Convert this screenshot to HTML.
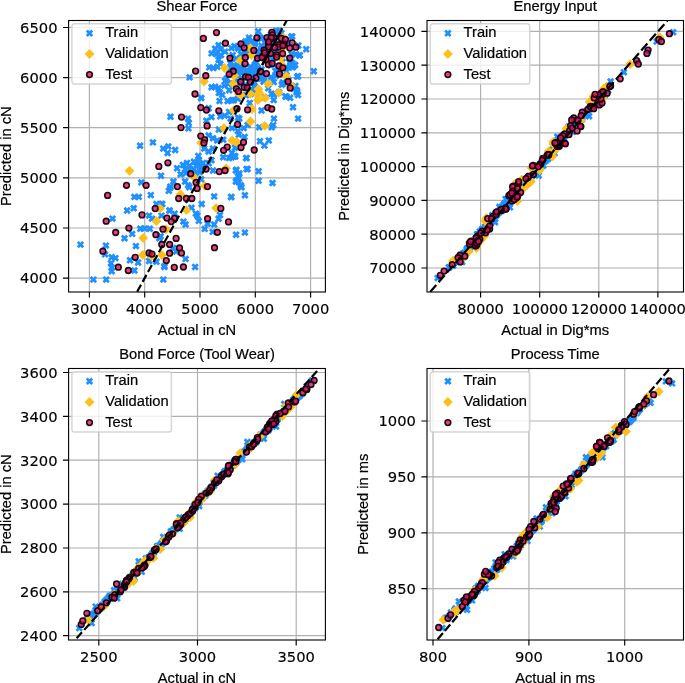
<!DOCTYPE html>
<html><head><meta charset="utf-8"><title>Predicted vs Actual</title>
<style>
html,body{margin:0;padding:0;background:#fff}
svg{display:block}
.s{font-family:"Liberation Sans",Arial,Helvetica,sans-serif;font-size:14.7px;fill:#000;stroke:#000;stroke-width:0.2px}
.d{font-family:"DejaVu Sans","Liberation Sans",sans-serif;font-size:14.7px;fill:#000;stroke:#000;stroke-width:0.15px}
</style></head><body>
<svg width="685" height="683" viewBox="0 0 685 683">
<rect width="685" height="683" fill="#fff"/>
<defs><marker id="mx" markerUnits="userSpaceOnUse" markerWidth="12" markerHeight="12" refX="0" refY="0" viewBox="-6 -6 12 12" overflow="visible"><path d="M-1.75,-3.7 0,-1.95 1.75,-3.7 3.7,-1.75 1.95,0 3.7,1.75 1.75,3.7 0,1.95 -1.75,3.7 -3.7,1.75 -1.95,0 -3.7,-1.75Z" fill="#1e90ff"/></marker><marker id="md" markerUnits="userSpaceOnUse" markerWidth="12" markerHeight="12" refX="0" refY="0" viewBox="-6 -6 12 12" overflow="visible"><path d="M0,-4.9 4.9,0 0,4.9 -4.9,0Z" fill="#fdbf1c"/></marker><marker id="mc" markerUnits="userSpaceOnUse" markerWidth="12" markerHeight="12" refX="0" refY="0" viewBox="-6 -6 12 12" overflow="visible"><circle r="2.85" fill="rgba(228,20,95,0.8)" stroke="rgba(25,5,15,0.97)" stroke-width="1.6"/></marker></defs>
<clipPath id="c1"><rect x="68.6" y="20.5" width="256.8" height="271.5"/></clipPath>
<path d="M89.4,20.5V292M144.7,20.5V292M200,20.5V292M255.3,20.5V292M310.6,20.5V292M68.6,27.5H325.4M68.6,77.6H325.4M68.6,127.7H325.4M68.6,177.9H325.4M68.6,228H325.4M68.6,278.1H325.4" stroke="#b0b0b0" stroke-width="1.17" fill="none"/>
<g clip-path="url(#c1)" fill="none" stroke="none">
<polyline points="189.6,77.4 211.6,53.4 215.1,48.7 218.6,45.2 220.4,49.3 216.3,54 221,55.1 225.1,51.6 231.5,48.1 234.4,46.3 218.6,59.8 220.4,63.9 209.3,67.4 213.4,68 217.5,66.8 230.4,63.3 233.9,65.1 238.5,66.8 249.1,37.6 252.6,41.1 250.3,43.4 254.9,44 245.6,52.8 240.9,54 211.6,87.3 215.1,86.7 218.6,87.9 219.8,92.6 222.2,94.9 201.1,97.9 225.1,80.9 226.8,78.5 228,83.8 236.2,69.2 239.7,71.5 242.1,66.8 250.3,66.8 254.9,64.5 254.9,71.5 257.9,68 247.9,71.5 252.6,72.7 232.7,55.1 236.2,58.6 224.5,85.6 252.6,90.3 254.9,92.6 245.6,94.9 229.2,90.3 306.2,49.3 313.8,71.3 298,76.2 295.1,65.1 292.2,36.4 299.8,55.1 296.8,90.3 298,95 296.6,92.2 286.4,96.6 293,107.3 298.1,118.6 273.9,118.6 273.2,125.1 261.5,110.5 268.8,140.5 260,141.2 264.4,145.6 246.1,158.1 247.6,169.1 258.6,171.3 258.6,180.8 272.5,183 235.9,170.5 238,176.4 235.9,181.5 241,186.6 233.7,156.6 238.8,134.7 238,117.8 233.7,100.2 273.9,94.4 247.6,125.1 259.3,127.3 271.7,127.3 244.6,136.9 170.5,116.8 188.1,118.6 188.8,122.9 188.4,128.4 152.9,142.4 163.2,148.6 168.3,146.4 167.6,153 175.2,150 161,175.7 177.1,168.3 180.7,174.2 201.2,98.1 208.6,108.3 206.4,120.7 211.5,117.1 218.8,92.9 219.5,101 227.6,101 232,100.2 237.8,98.8 220.3,116.4 224.7,115.6 229.1,112 230.5,118.6 239.3,118.6 243.7,128.1 232,128.1 208.6,135.4 213,138.3 217.3,140.5 223.2,139.8 204.2,148.6 208.6,151.5 198.3,155.9 193.9,161.7 198.3,163.2 189.5,166.1 185.1,169.1 193.9,169.1 199.8,172 211.5,160.3 208.6,163.2 223.2,157.3 229.1,158.1 234.9,155.9 232,153 246.6,158.1 236.4,169.8 239.3,173.4 236.4,180.8 240.8,185.2 246.6,169 213,170.5 173.4,181.5 170.5,186.6 185.1,181.5 188.1,185.2 201.2,179.3 213,148.6 234.9,147.8 218.8,129.5 237.8,131 80.5,244.6 134.4,196.9 138.8,196.9 150.8,195.1 127.1,210.5 133.7,208.3 112.5,218.6 156.4,203.9 161.5,203.9 149.1,215.6 152,218.6 161.5,215.6 140.3,228.8 144.7,228.4 149.8,228.8 132.2,233.9 124.5,238.3 135.9,246.1 105.9,245.6 105.1,254.4 111.7,257.3 115.4,258.1 111,263.2 111.7,267.6 111.7,271.3 130,260.3 138.1,262.5 134.4,270.5 93.4,279.6 106.2,279.6 163.3,279.6 164.4,266.1 149.1,261 156.4,261.7 159.3,238.3 169.6,210.5 168.8,190.7 170.2,187.9 189.3,187.2 241.3,187.2 214.2,196.4 231.3,197 244.9,195.2 201.7,204 162.2,204 191.5,207.7 169.5,210.6 174.6,213.6 195.9,213.6 197.3,215.7 220,215 218.6,218.7 183.4,221.6 185.6,224.5 198.8,220.9 207.6,223.8 214.2,224.5 204.7,228.9 212.7,231.9 236.1,234.8 244.9,232.6 173.2,248 176.1,251.6 185.6,258.9 164.4,267 195.1,267 160.7,236.2 140.1,145.7 141.3,182.4 231.6,157.3 235.2,156.6 238.9,174.2 238.9,182.2 231.1,197.1 291.3,36.7 298.3,45.5 299.5,55.5 296,54.3 294.8,64.9 292.5,67.2 297.2,76.6 295.4,86 297.2,91.8 293.7,88.9 285.4,96.5 290.1,97.7 276.1,30.9 273.7,100 183,165 187,163 191,171 196,166 201,168 203,163 186,173 195,174 199,160 254.3,85.7 262.5,78.1 244,44.7 238.8,75.2 279.5,30.4 273.7,41.7 249,46.2 286.5,67.1 275.6,71.3 245.6,41.4 276.7,50.5 274.6,39.6 290.3,61.6 292.4,63.1 273.8,82 282.8,82.4 233.1,83.4 276.5,31.5 256.4,51.4 256.3,62.2 260.8,78.9 286.5,71.7 291.6,65.6 250.8,44.3 281.2,39.6 255,42.7 278.6,44.9 230.8,68.5 240.2,62.2 268.2,88.2 242.5,44.9 261.5,45.8 288.4,80 232.4,67.2 241.2,45.5 245.5,84.6 248.2,48.3 279,92.3 270.8,34.7 261.5,69.4 272.6,58.7 270.6,65.3 279.3,35.3 271,77.2 241.5,78.7 281.5,33.1 238.2,48.5 263,74.3 249.7,103 243.9,44.1 265.1,56.1 261.1,49.2 282.5,58.3 293.1,67 250.1,82.2 256.1,54.3 246.9,70.1 262,77.9 247.9,76.5 277,67.9 240.1,71.3 259.9,37.2 246.6,86.1 248.7,40.6 246.4,73.7 271.6,40.8 258.3,31.5 263.6,81.8 274.2,37.6 231.5,74.4 246.9,55 291.6,54.2 238.2,81.8 281.3,48.5 265.6,40.1 236.8,86 261.2,38.8 251.7,74.4 254.2,69 283.2,83.6 289.1,58.5 269.3,55.1 245.5,76.2 254.2,53.6 287.7,43.3 281.4,40.2 238.9,83.3 269.6,55.3 281.8,84.7 258,53.6 271.5,93.8 276,75.7 240.4,67.7 280,72.7 264.7,97.5 286,67.4 254.5,83 257.6,70.6 246.2,95.1 245.2,73.6 264,80.7 258,55.9 241.1,82.7 250.5,94 264,47.4 262.6,77.9 266.6,42.7" marker-start="url(#mx)" marker-mid="url(#mx)" marker-end="url(#mx)"/>
<polyline points="250.3,48.1 251.4,55.1 240.3,60.4 224.5,67.8 234.4,75.6 204,81.5 233.3,83.8 258.5,89.1 250.3,93.8 240.9,94.9 283.4,37.6 282.2,48.7 281,57.5 286.3,76.2 291,85.6 268.1,83.8 278.7,92.6 258.2,94.9 265.2,97.9 281.6,64.5 238.8,93.7 259.3,92.9 257.8,100.2 252,109 233.7,110.5 250.5,121.5 264.8,125.9 232.2,140.5 236.6,142 223.9,128.1 201.2,142.7 226.1,168.3 193.2,176.4 204.9,185.9 160,208.6 156.4,221.2 165.9,229.2 143.2,238 142.8,254.9 161.9,254.9 151.3,255.9 180.5,194.5 186.4,210.2 216.1,208.1 129.5,170.8" marker-start="url(#md)" marker-mid="url(#md)" marker-end="url(#md)"/>
<polyline points="216.5,32.6 203.4,38.4 225.4,43.2 240.9,43.8 244.1,47.8 256.9,37.8 253.8,50.4 230,58.1 245.3,57.5 257.5,58.3 245,63.7 195.6,71.1 205.8,75.7 233.3,71.2 229.2,74.2 245.6,76.8 248.5,77.4 255.9,78 240.7,81.7 250.3,82.1 244.2,87.3 247.3,87.9 236.4,88.9 238.5,91.4 195,94 271.9,32.3 267,37.6 274.2,37.8 268.7,44.4 278.7,44.8 284,42.8 292.2,42.8 295.9,47.2 289.8,48.1 264.1,50.2 270.5,53.4 276.7,54.8 282.6,53.6 263.1,55.7 289.8,58.1 265.8,59.8 268.4,64.5 279,66 282.8,67.8 260.5,71.5 266.4,73.6 279.5,73.9 288.1,81.5 290.2,87.9 237,108.7 247.6,109.8 267.8,107.6 271.7,109 237.6,124.4 243.5,142.3 241,147.5 254.2,150 200.8,107.6 206.4,110.1 218.8,110.8 181.5,117.1 181,127.6 207.1,125.9 200.8,136.1 204.6,139.8 203.9,143 227.2,147.1 223.6,150.3 167.9,162.8 158.8,166.4 206.1,169.1 219.3,171.6 225.1,170.5 190.7,173.7 196.1,182.5 177.4,186.6 207.5,186.6 197.1,188.4 107.6,195.4 106.2,221.2 115.7,232.5 128.9,228.1 142,214.9 155.2,208.6 166.9,218.1 163,229.2 155.9,234.7 161.8,244.5 169.6,244.5 102.9,251.2 135.2,257.3 149.1,253 152,254.1 169.6,253.2 166.3,260.6 118.3,267.2 128.3,270.5 178.7,198.5 186.4,198.5 191.8,198.5 220.8,208.4 174.6,218.4 171.3,221.6 207.6,218.7 228.5,221.9 217.4,232.3 176.1,238.4 179.5,248 214.5,247.7 181.5,253.1 174.3,267.4 183.4,267 126.5,185.3 146.1,185.3 278.5,47.1 284,44.6 282.9,45.8 266.1,59.3 281.3,38.4 272.3,34.8 268.6,46.6 274.8,47.6 262,57.5 276.6,57 271.2,38.5 271.3,37.6 268.7,41.9 272.2,63.4 264.6,52.7 285.4,39.4" marker-start="url(#mc)" marker-mid="url(#mc)" marker-end="url(#mc)"/>
</g>
<path clip-path="url(#c1)" d="M137,292L286.7,20.5" stroke="#000" stroke-width="2.2" stroke-dasharray="8 3.25" stroke-dashoffset="10.95" fill="none"/>
<path d="M279.8,33L262.2,65" stroke="#000" stroke-width="2.2" fill="none"/>
<path d="M89.4,292v5.6M144.7,292v5.6M200,292v5.6M255.3,292v5.6M310.6,292v5.6M68.6,27.5h-5.6M68.6,77.6h-5.6M68.6,127.7h-5.6M68.6,177.9h-5.6M68.6,228h-5.6M68.6,278.1h-5.6" stroke="#000" stroke-width="1.17" fill="none"/>
<rect x="71.9" y="23.8" width="99.5" height="60.3" rx="2.9" fill="rgba(255,255,255,0.8)" stroke="rgba(204,204,204,0.8)" stroke-width="1.46"/>
<path fill="#1e90ff" d="M87.75,29.5 89.5,31.25 91.25,29.5 93.2,31.45 91.45,33.2 93.2,34.95 91.25,36.9 89.5,35.15 87.75,36.9 85.8,34.95 87.55,33.2 85.8,31.45Z"/>
<path fill="#fdbf1c" d="M89.5,49.1 94.4,54 89.5,58.9 84.6,54Z"/>
<circle cx="89.5" cy="74.6" r="2.85" fill="rgba(228,20,95,0.8)" stroke="rgba(25,5,15,0.97)" stroke-width="1.6"/>
<g class="s">
<text x="105.2" y="37.1">Train</text>
<text x="105.2" y="57.8">Validation</text>
<text x="105.2" y="78.5">Test</text>
</g>
<rect x="68.6" y="20.5" width="256.8" height="271.5" fill="none" stroke="#000" stroke-width="1.1"/>
<g class="d" text-anchor="middle">
<text x="89.4" y="314.3">3000</text>
<text x="144.7" y="314.3">4000</text>
<text x="200" y="314.3">5000</text>
<text x="255.3" y="314.3">6000</text>
<text x="310.6" y="314.3">7000</text>
</g><g class="d" text-anchor="end">
<text x="57.5" y="32.8">6500</text>
<text x="57.5" y="82.9">6000</text>
<text x="57.5" y="133">5500</text>
<text x="57.5" y="183.2">5000</text>
<text x="57.5" y="233.3">4500</text>
<text x="57.5" y="283.4">4000</text>
</g>
<g class="s" text-anchor="middle">
<text x="197" y="10.7">Shear Force</text>
<text x="197" y="334.7">Actual in cN</text>
<text transform="translate(10.5,156.2) rotate(-90)">Predicted in cN</text>
</g>
<clipPath id="c2"><rect x="427" y="20.5" width="256.5" height="271.5"/></clipPath>
<path d="M480.6,20.5V292M539.7,20.5V292M598.8,20.5V292M657.9,20.5V292M427,31.4H683.5M427,65.2H683.5M427,99H683.5M427,132.8H683.5M427,166.6H683.5M427,200.4H683.5M427,234.2H683.5M427,268H683.5" stroke="#b0b0b0" stroke-width="1.17" fill="none"/>
<g clip-path="url(#c2)" fill="none" stroke="none">
<polyline points="673.1,32.3 656.7,41.5 623.9,72.3 610.6,81.5 604.4,95.8 591.1,104 589.1,116.3 572.7,131.7 557.3,136.8 553.2,151.2 437.7,278.1 462.2,262 495.1,222.2 499.4,206.9 505.7,198.9 510,207.4 538.7,175.5 554.6,153.2 581.1,119.5 580.2,118.9 597.8,98.3 582,119.4 467.5,248.7 507.3,202.7 463.1,253.7 584.7,114.2 522.1,184.4 583.8,114.4 483.6,229 539.1,165.9 492.3,215.3 449,267.3 562.9,136.6 516.2,193.2 551.7,150.2 500.4,210 590.8,104.8 513.7,196.6 563,136.1 537,170.7 455.5,260 488.1,224.8 453.9,262.9 479.8,233.2 453.1,263.2 592,105.3 505.9,203.8 512.2,197.3 563.5,135.8 489.3,221.3 564.6,136.5 543.2,165.7 495.9,212.8 478.9,234.8 454.7,262.1 466.5,249.7 498.4,212.9 551.3,152.1 501,210.3 557.1,144.5 478.6,234.6 477,234.1 499,212.4 588.4,110.2 460.4,255.1 561.8,138.2 487,228 551,153.1 577.1,121.2 596.3,99.7 525.5,183.2 592.5,105.3 514.6,195.3 579.1,120.4 529.3,176.1 516.2,191.9 549.4,155.6 467.9,250.2 507.5,199.1 568.5,128.8 579.9,120.5 468.4,248.5 457.1,259.5 535.3,171.9 491.7,217.7 560,139.4 585.8,112.6 606,91.5 555.5,148.7 505.4,205.6 485.1,228.6 578.4,119.9 560.7,138.5 553,149.9 494.8,219 546.4,158.7 456.9,261.6 572.3,125.6 477.2,238.1 501.8,210.7 598.7,98.2 593,103.5 579.4,119.4 508.6,201.2 547.9,159 517.9,191.6 537,169.7 595.8,99.2 467.3,248.1 495.3,215.4 604.8,94.6 567.3,132.1 577,124.6 603.7,94.2 531.9,175.2 514,197.2 555.5,145.2 495,214.7 604.6,94.7 601.5,94.2 603.6,91.6 498.3,212.1 513.5,194.9 519.5,189.7 525,182.9 576.4,120.8 495.6,213.9 485.1,226.6 556.7,142.4 596.5,101.8 590.1,108.6 599.1,96.4 491.3,221.2 490,222.9 480.8,231.7 599.2,97.6 469.3,248.2 560.4,140.3 599.4,96.7 569.4,130.4 556.1,146.5 507.9,199.4 603.7,94.2 569.2,131.2 545.6,160.9 469.6,249.4 553.4,149.1 480,234.7 496.5,214.5 492.5,217.6 470.6,246.9 532.3,176.1 597,97.5 488.3,223.9 466.9,251.5 508.7,198.3 574.8,123.5 547.8,156.2 540.6,165.2 526.7,179.5 563.6,135.6 548.1,157.5 589.2,108.1 488.2,223.5 529.3,178.6 582.1,117.8 503.9,204.2 582,116.7 556.2,141.3 543.9,161.9 546.6,157.3 534.3,172.2 513.5,196.7 526.8,179.6 468,250.2 462.1,255.8 480.1,233.8 525.5,179.8 516.3,191.8 479.8,231.4 517.4,191.2 501.6,207 548.8,156.4 512.4,197.1 551.3,154.6 592.7,102.7 452.3,264.7 482.2,229 551.4,153.8 552.2,153.5 537.3,168.8 549,157.3 600.4,95.3 556.9,142.8 559,138.9 508.5,200.6 541.5,164.4 507.9,203.6 571.7,124.7 482.3,230.8 547.6,156.5 575.2,123.3 600,95.7 552,150.1 480,234.3 554.4,149.3 585.6,112.6 453.5,262.8 503.8,206.4 509,198.8 540.1,166.2 495.3,215.8 474.8,242.1 464.3,252.8 524.7,180.4 577.8,121.1 547.5,158.5 533.2,171.4 485.8,226.9 501.5,207.1 600.9,96.7 525.3,182.8 580.2,119 506.6,203.5 598.6,98.1 602.5,95.4 449,267.6 498.5,211.6 488.8,222.9 607.8,87.4 569.2,129 576.4,121.6 508.4,202 567.8,131.7 475.6,238.5 564.7,135.9 496.7,215.1 586.5,111 453.1,265.7 504.9,203.8 544.8,160.5 486.5,226.5 553.1,150.5 552.4,150.9 486.5,225.3 513.2,198 486.6,229.5 577.8,123.7 575.6,124.5 503.7,205.1 568.6,130.4 548.8,156.7 602.1,95 577.4,120.6 543,162.3 604.8,91.5 595.9,100.1 599.2,98.3 461.3,255.7 527.4,178.2 487,224.4 494.9,216 608.2,90.5 510.9,199.7 501.6,208.7 556.2,143.1 511.9,198.9 568.5,134.3 498.5,211.1 560.3,138.5 506.4,203.1 563.1,135.8 496.9,212.9 463.9,253.8 594.4,101.2 568.6,126.6 570.8,128.5 601.6,94.9 647.8,51.5 637.5,62.5" marker-start="url(#mx)" marker-mid="url(#mx)" marker-end="url(#mx)"/>
<polyline points="659.8,37.4 630.1,64.1 606.5,86.6 593.6,96.2 580.9,120.4 566.5,128.6 551.1,155.3 456.9,258.4 469.6,242.4 486.6,218 527,185.1 521.7,179.7 517.4,201 539.7,169.1 552.5,156.4 594.2,100.8 514.4,184.7 603.2,95.2 487.6,228 453.7,261.1 589.6,101.9 484.3,236.1 518.5,187.7 515,184 553.3,141.8 521.9,190.1 602.8,98.3 468.7,251.6 531.6,167.9 485.3,221 483.7,234.5 452.9,260.9 553.3,143.9 539.7,170 577.5,121.1 476.4,248 463,258.4 603.8,88.7 530.9,181.6 554.8,150.3 548.1,153.5 548.6,151.3 480.8,240.3" marker-start="url(#md)" marker-mid="url(#md)" marker-end="url(#md)"/>
<polyline points="669.4,33.7 658.8,39.5 661.4,41.5 648.1,50.1 646.9,53.4 636.6,60.6 638.3,64.1 620.2,78.8 610.6,86 607.1,93.2 601.4,92.8 594.2,97.9 597.9,102.4 599.3,104.4 591.1,107.1 582.3,112.2 573.7,118 576.8,120.4 580.9,126.6 570.6,125.6 569.6,130.7 564.5,133.8 560.4,139.9 555.2,143 557.3,146 564.5,143 548.1,154.3 440.3,275.3 444.1,271.1 452.2,264.7 460.1,255.2 464.9,256.2 469.6,242.8 476,245.6 477.7,236 479.8,239.2 488.1,228.2 487.7,218.6 493,216.3 496.2,212.7 501.5,210.5 505.7,208.4 508.9,195.7 512.1,201 516.4,197.8 520.6,192.5 513.8,186.1 518.5,183.6 514.2,190.4 528,177.6 533.4,174.4 533.4,165.3 540.8,163.8 542.9,158.5 547.2,155.3 588,109.3 517.7,196 557.3,146.4 496.1,214.6 485.5,232.8 559.3,146.3 476.1,244.4 532.4,165.9 512.6,186.7 609.8,86.5 471.2,241.1 475.9,245.8 496.7,211.8 540.2,164 512.5,191.4 590.4,106.5 548.6,155 562.9,135.7 560.9,143.2 599.4,104.9 580.5,126.4 514.3,199.6 548.7,154.7 458.1,257.7 528.3,176.4 489.6,228.9 510,194.7 564.1,143.4 489.8,225.8 475,245.7 506.1,209 572.2,128.1 558.2,145.3 569,134.6 511.8,193.1 476.9,244.5 576.8,120.3 558,144.5 556.9,142.9 469.7,244.6 482.3,231.2 577.1,130.9 476.3,237.7 476.2,242.7 460.2,261.9 602.9,93.9 505.6,208 591.7,106.7 578,120.4 571.7,120 591.6,107.7 491.5,218.7 602,102.9 581.2,115.6 542.3,160.4 526,178.6 599.1,94.8 505.6,209 480.8,233.1 539.9,164.7 593.7,108.7 595.1,94.3 600.9,99 603.1,91.7 517.6,188.5 501.3,209.3 517.2,196.9 565.4,143.8 538.3,166.6 555.1,143 478.5,241.4 487.2,229.9 470.7,241.6 518.7,181.6 560.6,137.9" marker-start="url(#mc)" marker-mid="url(#mc)" marker-end="url(#mc)"/>
</g>
<path clip-path="url(#c2)" d="M667.5,20.5L430.1,292" stroke="#000" stroke-width="2.2" stroke-dasharray="9.3 3.53" stroke-dashoffset="7.93" fill="none"/>
<path d="M480.6,292v5.6M539.7,292v5.6M598.8,292v5.6M657.9,292v5.6M427,31.4h-5.6M427,65.2h-5.6M427,99h-5.6M427,132.8h-5.6M427,166.6h-5.6M427,200.4h-5.6M427,234.2h-5.6M427,268h-5.6" stroke="#000" stroke-width="1.17" fill="none"/>
<rect x="430.3" y="23.8" width="99.5" height="60.3" rx="2.9" fill="rgba(255,255,255,0.8)" stroke="rgba(204,204,204,0.8)" stroke-width="1.46"/>
<path fill="#1e90ff" d="M446.15,29.5 447.9,31.25 449.65,29.5 451.6,31.45 449.85,33.2 451.6,34.95 449.65,36.9 447.9,35.15 446.15,36.9 444.2,34.95 445.95,33.2 444.2,31.45Z"/>
<path fill="#fdbf1c" d="M447.9,49.1 452.8,54 447.9,58.9 443,54Z"/>
<circle cx="447.9" cy="74.6" r="2.85" fill="rgba(228,20,95,0.8)" stroke="rgba(25,5,15,0.97)" stroke-width="1.6"/>
<g class="s">
<text x="463.6" y="37.1">Train</text>
<text x="463.6" y="57.8">Validation</text>
<text x="463.6" y="78.5">Test</text>
</g>
<rect x="427" y="20.5" width="256.5" height="271.5" fill="none" stroke="#000" stroke-width="1.1"/>
<g class="d" text-anchor="middle">
<text x="480.6" y="314.3">80000</text>
<text x="539.7" y="314.3">100000</text>
<text x="598.8" y="314.3">120000</text>
<text x="657.9" y="314.3">140000</text>
</g><g class="d" text-anchor="end">
<text x="415.9" y="36.7">140000</text>
<text x="415.9" y="70.5">130000</text>
<text x="415.9" y="104.3">120000</text>
<text x="415.9" y="138.1">110000</text>
<text x="415.9" y="171.9">100000</text>
<text x="415.9" y="205.7">90000</text>
<text x="415.9" y="239.5">80000</text>
<text x="415.9" y="273.3">70000</text>
</g>
<g class="s" text-anchor="middle">
<text x="555.2" y="10.7">Energy Input</text>
<text x="555.2" y="334.7">Actual in Dig*ms</text>
<text transform="translate(349.2,156.2) rotate(-90)">Predicted in Dig*ms</text>
</g>
<clipPath id="c3"><rect x="68.6" y="368.5" width="256.8" height="271.5"/></clipPath>
<path d="M98.8,368.5V640M197.5,368.5V640M296.2,368.5V640M68.6,372.5H325.4M68.6,416.4H325.4M68.6,460.2H325.4M68.6,504.1H325.4M68.6,548H325.4M68.6,591.9H325.4M68.6,635.7H325.4" stroke="#b0b0b0" stroke-width="1.17" fill="none"/>
<g clip-path="url(#c3)" fill="none" stroke="none">
<polyline points="79.3,628.1 91.6,623 95.7,606.6 104.9,601.5 114.1,590.2 117.2,598.4 122.3,584 134.6,577.9 138.7,561.5 141.8,571.7 145.9,558.4 157.2,546.1 163.3,536.9 179.7,517.4 179.7,528.7 199.2,506.1 312,380.4 284.3,403.9 276.1,426.5 263.8,438.8 247.4,441.9 242.3,459.3 217.7,475.7 198.2,502.3 136.6,571.2 148.3,557.4 140,567.7 196.2,504.9 152.8,552.7 205.2,495.5 236.5,459.4 89.3,617.2 89.9,615.9 232.7,464.5 155.7,549.8 292.9,402 109.8,595.8 144.1,563.9 173.3,530.2 234.8,462.9 237.7,460.5 244,451.7 277.8,417.2 184.9,519 118.7,590.8 208.1,490.6 295.3,397.3 269.9,426.9 295.6,399.7 108.7,597.5 107.3,601 173.5,530.4 189,515.1 231.4,466.1 231.8,465.2 132.8,574.9 268.9,428.2 269.8,427.6 301.7,393.3 183.4,521.3 159.7,545.9 127.9,582.4 93.7,613.6 125.1,585.3 183.1,521.6 140,567.1 255.4,441.7 107.1,601.4 106.9,599.5 151.3,555.3 100.1,608.5 173.6,531.2 262.7,434 185.9,517.4 250.1,446.9 185.2,518.3 206.3,493.9 218.8,480.1 214.8,482.1 111.1,596.6 156.7,548.3 210.7,487.9 233.8,464.6 95.8,611 146.8,560.3 296.1,398 162.6,543.2 276.9,417.2 87.3,619.3 130.9,578.8 280,414.7 121.3,587.9 298.4,396.1 162.9,542.9 133.4,574.2 306.8,386.1 224.6,471.5 295.8,398.5 143.2,564 283,412 241.5,453.9 218.5,480.4 119.4,589.7 87.2,619.7 213.2,485.4 204.1,495.8 269,428.6 266.7,428.7 293.5,401.5 275.3,419.3 300.6,394 177.2,528 294.5,399.3 141.6,565.3 266.4,430.5 134.8,573.1 159,546.1 248.4,447.9 240.3,455 283,412.5 229.5,468.7 170.9,532.5 277.4,419.6 197.7,501.7 194.2,507.2 275.1,420.1 139.5,566.5 144.2,563.6 219.1,479.1 112,595.5 298.2,396.3 94.9,613.7 297.1,397.9 250.3,447.1 121.5,587.3 224.6,472.8 159.5,546.1 230.2,466.3 97.7,609.9 173.7,530.6 197.4,505.1 266.6,431 232.3,465.3 233.3,465.5 125.9,583.8 281.7,413 161.8,542.8 222.8,475 187.4,517.7 281.5,413.9 120.2,588.5 143.3,565.4 97.7,609.6 194.5,507.8 163.9,540.8 276.8,419.8 273.3,422.4 254.1,442.7 194,507.4 286.9,406.7 150.5,556.1 150.5,557.8 192.1,511.4 186.1,516.7 222.1,475.5 133.3,575.7 122.1,586.9 145.8,562.8 274.2,422.2 245.5,451.3 180.1,523.3 205.1,493.5 268.6,429.4 160.4,544.8 134.9,572.4 162.9,542.4 171,531.3 129.7,580.2 118.7,589.9 102,606.1 305.8,389.3 195.4,507.4 277.3,418.7 210.5,488.2 138.2,569.9 153.8,552.5 192.9,509.1 275,421.4 129.7,580.9 128.8,580.9 117.3,590 182.7,522 197.6,501.5 146.9,560.1 124,587.7 140.4,566.9 137,570.6 174.2,529.9 86.7,619.6 226.4,470.6 241.7,454 174,529.1 121.3,588.4 160.3,546.4 165.1,540.4 280.2,413.8 172.1,531.7 98.6,609.3 92.6,614.5 302.9,393 279.9,414.5 139.6,568.5 148.7,557.7 173.6,530.8 182,522.5 144.3,564.3 223.3,473.9 140.3,567 198.7,502.9 236.3,462.5 124.6,586.5 178.7,524.8 110.3,598.5 116.6,590.6 200.5,499.3 260.4,437.2 111.8,595.7 290.4,403.3 251.7,443.9 113.4,595.4 226.7,471.2 228.8,468.3 180.5,523.2 153.1,553.5 294.1,399.2 135.2,573 230.9,465.8 158.2,546.3 121.8,586.7 250.5,447.6 241.8,454.8 214,485.7 198.7,501.6 88.6,618.3 298.8,395.7 297.7,396.2 152.1,554.2 187.9,515.7 136.3,571.7 186.1,518.8 265.7,430.5 300.9,394.3 299.7,396.1 137.8,570.6 103.4,605 197.1,503.1 197.5,503 246.4,451 98.6,608.8 254.7,442.7 199.3,501.7 264.7,431.7 182.1,520.6 217.9,480.2 105.3,601.9 264.1,432.5 256.5,442.1 213.7,483.1 140.8,566.9 172.5,532.2 168.6,536.4 288,407 185.5,518.6 127.3,582.9 194.5,505.5 244.3,452.5 127.6,581 236.7,460.8 143.4,564.8 184.8,518.9 260.8,435.3 268.4,430.2 96.4,612.1 236.1,461.1 232.5,464.7 124.2,584.6 196.6,504 114.8,592.8 102.6,604.7 97.6,610.4 97,610.9 275.8,420.5 162.8,542.2 247.5,447.9 160,546.5 186.9,517.4 134,574.1 202.2,498.4 233.2,464.5 140.4,568.6 293.2,400.1 143.2,563.6 104.9,602.4 208.3,490.7 194.8,507.3 189.9,514.9 157,548 203,496.8 253.3,443 219.7,477.5 247.5,449.8 306.1,389.1 246.1,449.9 260,436.9 123.4,586.3 230.2,467 226.1,470.6 211.8,486.8 290.6,404.6 277.1,417.7 111.8,595.7 260.9,434.5 228.3,468.4 178.1,526" marker-start="url(#mx)" marker-mid="url(#mx)" marker-end="url(#mx)"/>
<polyline points="88.5,619.9 103.9,606.6 114.1,594.3 133.6,581 139.7,567.6 146.9,561.5 160.2,549.2 164.3,540 190,517.4 197.1,504.1 296.6,394.7 290.5,407 282.3,416.2 259.7,435.7 249.5,449 240.3,453.1 235.1,464.4 208.5,492.1 197.2,501.3 196.7,502.4 304.5,390.8 188.6,516.8 250.8,445.1 202.6,497.1 285.7,411.8 201.8,499.1 190.1,512.1 99.9,608.8 183.9,522.9 260,436.5 137.8,568.3 210,491.3 214.6,480.3 286.2,405.3 196.1,502 137.5,572 141.3,564.9 178.2,521.1 208.2,490.7 126,581.6 184.8,518.1 144.1,564.3 153.5,557.9 128.7,583.4 145.1,560.5 172.6,533.8 156.2,548.6" marker-start="url(#md)" marker-mid="url(#md)" marker-end="url(#md)"/>
<polyline points="81.3,624.4 82.8,620.9 86.9,613.3 97.7,610.7 101.2,607 114.7,594.7 116.6,584 120.3,591.8 124.4,587.1 126.4,581 129.5,577.5 135.6,572.1 138.7,568.3 144.9,565.6 150,557.4 155.1,550.2 166.4,541 168.4,536.9 172.5,533.8 176.6,523.6 180.7,524.6 183.8,519.5 187.9,515.4 192,511.3 195.1,507.2 314.1,380.4 311,384.5 306.9,389.6 302.8,392.7 294.6,401.9 288.4,402.9 284.3,411.1 277.2,414.2 275.1,418.3 270,423.4 273.1,424.4 266.9,430.6 256.7,440.8 253.6,443.9 249.5,447 246.4,452.1 236.2,459.3 229,465.4 228,471.6 221.8,475.7 218.7,480.8 214.6,482.9 211.6,488 206.4,493.1 201.3,496.2 195.2,504.4 188.4,514.6 221.5,476.8 295.7,401.1 275.9,421.4 106.4,602.8 251.7,446.5 269.7,424 111.9,597.2 216,482.8 227.7,471.1 228.1,473.8 230.2,469.7 254.6,442.6 208.9,491.7 235.3,461.8 165.6,541.7 271.7,421.7 228.1,472.7 128.6,579 193.4,509.1 168.6,537.1 133.8,572.5 176.3,524.4 223.7,474.2 273.7,423.6 274.3,419.5 169.3,535.1 114.2,598 124.3,585.3 283.8,411.7 179.5,526.1 268.1,429 126.6,580.3 234.7,460.7 126.1,582.1 272.7,423.6 275.9,415.7 280.2,413.6 211,487.6 267.5,427 228.4,465.9 190.5,513.3 305.8,389 271.1,424.3 125.4,583.3 136.4,572.3 257.3,437.6 185.8,517.3 144.4,565.2 198.2,501.3 271.9,421 180.8,523 235.7,459.3 235.8,461.5 126.7,581 253.4,444.3 265.4,431.9 192.5,511 185.5,517.4 288.6,406.8 198.9,499.1 177.5,527.8 285,411.1 143.9,566.7 268.5,428.8 273.7,423.8 137,573.1 209.7,490.3 126.5,581.7 141.8,567.9 154.5,550 192.4,509.5 216.8,479.8 151,556.4 156.2,549 197.8,502.6 257.8,439.1 120.9,590" marker-start="url(#mc)" marker-mid="url(#mc)" marker-end="url(#mc)"/>
</g>
<path clip-path="url(#c3)" d="M76.6,638.3L317.1,371.1" stroke="#000" stroke-width="2.2" stroke-dasharray="8 3.34" stroke-dashoffset="0" fill="none"/>
<path d="M98.8,640v5.6M197.5,640v5.6M296.2,640v5.6M68.6,372.5h-5.6M68.6,416.4h-5.6M68.6,460.2h-5.6M68.6,504.1h-5.6M68.6,548h-5.6M68.6,591.9h-5.6M68.6,635.7h-5.6" stroke="#000" stroke-width="1.17" fill="none"/>
<rect x="71.9" y="371.8" width="99.5" height="60.3" rx="2.9" fill="rgba(255,255,255,0.8)" stroke="rgba(204,204,204,0.8)" stroke-width="1.46"/>
<path fill="#1e90ff" d="M87.75,377.5 89.5,379.25 91.25,377.5 93.2,379.45 91.45,381.2 93.2,382.95 91.25,384.9 89.5,383.15 87.75,384.9 85.8,382.95 87.55,381.2 85.8,379.45Z"/>
<path fill="#fdbf1c" d="M89.5,397.1 94.4,402 89.5,406.9 84.6,402Z"/>
<circle cx="89.5" cy="422.6" r="2.85" fill="rgba(228,20,95,0.8)" stroke="rgba(25,5,15,0.97)" stroke-width="1.6"/>
<g class="s">
<text x="105.2" y="385.1">Train</text>
<text x="105.2" y="405.8">Validation</text>
<text x="105.2" y="426.5">Test</text>
</g>
<rect x="68.6" y="368.5" width="256.8" height="271.5" fill="none" stroke="#000" stroke-width="1.1"/>
<g class="d" text-anchor="middle">
<text x="98.8" y="662.3">2500</text>
<text x="197.5" y="662.3">3000</text>
<text x="296.2" y="662.3">3500</text>
</g><g class="d" text-anchor="end">
<text x="57.5" y="377.8">3600</text>
<text x="57.5" y="421.7">3400</text>
<text x="57.5" y="465.5">3200</text>
<text x="57.5" y="509.4">3000</text>
<text x="57.5" y="553.3">2800</text>
<text x="57.5" y="597.1">2600</text>
<text x="57.5" y="641">2400</text>
</g>
<g class="s" text-anchor="middle">
<text x="197" y="358.7">Bond Force (Tool Wear)</text>
<text x="197" y="682.7">Actual in cN</text>
<text transform="translate(10.5,504.2) rotate(-90)">Predicted in cN</text>
</g>
<clipPath id="c4"><rect x="427" y="368.5" width="256.5" height="271.5"/></clipPath>
<path d="M433,368.5V640M528.9,368.5V640M624.7,368.5V640M427,421H683.5M427,476.9H683.5M427,532.8H683.5M427,588.7H683.5" stroke="#b0b0b0" stroke-width="1.17" fill="none"/>
<g clip-path="url(#c4)" fill="none" stroke="none">
<polyline points="665.9,381.4 672.1,383.4 650.6,402.9 633.1,418.3 613.7,439.8 586,457.2 602.4,457.2 575.7,473.6 565.5,496.2 458.8,601.5 467,609.7 472.1,600.4 485.5,588.1 495.7,562.5 504.9,554.3 513.1,556.4 527.5,541 536.7,518.4 539.8,526.6 545.9,507.2 552.1,513.3 442.4,628.1 449.3,616.6 461.7,606 485.9,579.7 486.3,579.1 506.6,558.1 556.5,500.7 614.6,433.7 608.7,442 501.5,562.5 548.6,510.4 636.4,413.2 548.4,510.3 462.3,604.3 577.3,475.9 478.4,586.7 621.6,429.6 497.7,568.8 478.4,586.8 503.5,560.2 555.8,500.8 475.5,588.4 501.1,562.3 573.3,478 549.8,507.4 480.4,585.6 584,466.8 575.9,477.4 526.8,536 605.8,445.4 506.5,560 498.9,563.5 584.5,463.9 572.1,482 547.8,512.1 528.8,532.2 639.9,409.2 553.9,506.4 534.5,527.6 455.8,608.5 520.4,542.1 504.7,559.7 503.3,559.6 551.7,507.5 621,430.4 633.6,416.2 576.1,477.2 447.6,618.3 516.6,546 512.6,552.5 534,526.8 450.9,612.5 645.3,404.1 554.6,505 554.4,500.3 513.4,553 537.9,523.7 534.7,521.9 491.6,572 556.6,501.4 469.1,600 578.7,472.2 645.6,402.9 497,567.1 603.5,447.7 503.5,561.6 566,487.8 555.7,503.4 591.7,455 476.5,591.8 502.7,560.1 541.5,520.7 522.3,542.3 469,599.6 495,570.5 531.6,531.2 474,592.8 581.9,469.4 490.2,574 532.5,530.1 617.8,431.8 588,461.5 597.4,451.9 536,526.2 472.7,596.2 488.6,574.2 490.1,575.3 587.2,463.3 553.8,505.7 449.2,616.3 488.4,576.2 477,587.8 490.5,576.2 626.8,423.5 453.7,612.7 499.7,563.4 591.1,456.6 469,600 633,417.4 525.3,536.6 535.6,527.3 577.1,474.4 629.2,421 601.6,448.4 615.3,434.7 637.7,411.7 526.8,534.7 630,421 572,481.1 559.6,496.7 572.2,479.4 574.5,476 648.1,400.8 594.3,454.6 465.8,603.2 553.7,503.7 615.8,432.8 509.5,554.3 525,537.9 625.3,425.6 461,605.2 583.9,465.7 495.6,567.9 526.3,536.4 519.3,545.6 461.3,605.1 465.5,600.4 461.5,605.8 568.6,486 485.4,581.1 534.7,526.8 465,604.9 597.8,450.5 647.9,399.3 455.4,610 614.8,433.5 570.4,482.5 481.9,581.9 472.9,594.1 528.3,532.5 544.5,515.5 447.6,618.6 581.4,470.2 610.1,438.6 521,542.4 592.2,456 474.3,592.4 631.3,419.9 512.1,552.7 458.8,609.1 587.3,462.3 584.3,464.6 606.1,446.3 533.5,529.6 537.3,525 550.4,506 613.6,434.1 576.4,474.7 496.6,569.7 511.9,553.7 564.1,492 524.2,538.6 629.3,422 467.4,600.8 453.5,613.4 478.2,586 492.6,571.8 525.9,535.7 495,569.7 587.1,461.7 503.2,559.8 573.1,480.6 519.1,545.6 455,610.1 445.1,618.3 531.1,530.7 637.2,410.5 515.4,550.8 523.3,541.2 535.4,524.2 499.3,563.7 611.8,437.4 586.5,464.5 465.3,602.2 503.5,558.5 466.1,603.6 505.3,555.8 464.8,604.1 576.3,475.7 578.9,472.5 529.7,532.2 619.4,429.5 600.6,448.9 474.7,592.7 576.1,479.3 619.6,431.1 517.7,547.7 648.2,399.6 643.3,405 597.5,452 585.6,465.9 498.9,562.4 510.7,552.3 514.2,551.3 575.6,476.7 591.9,457.1 503.9,560.2 455.9,611 584.4,465.1 623.9,426.6 596,453.2 498.9,565.3 488.7,576.9 626,422.9 546.8,515.2 543.9,517 584.4,467 624.9,423.7 584.2,464.6 558.1,498.8 571.8,484.9 520.8,545.4 475.5,591.1 498.3,563.3 523,538.1 541.8,517.6 537.5,524.7 638.4,410.6 567.7,487.1 551.9,506.8 604,444.6 542.7,518.3 488.8,572.4 617.5,430.7 489.9,574.5 454.7,610.2 575.8,475.9 535.4,526.7 470.5,598 543.7,516.2 516.9,551.2 577.9,472.8 447.2,619.1 486,579.3 540.3,518.3 500.1,562 542.7,516.1 455.2,609 583.9,466.8 547.5,512.8 502.1,561.2 520.8,542.6 466.9,600.2 472.3,596.9 501.1,561.3 496,569.6 541.5,521.2 464.4,603.1 583.4,466.9 504.7,559.4 609.8,442.5 583.3,469.1 494.1,568.6 503.2,560.4 642.9,405.7 638,410.6 468.5,598.3 518.4,543.3 496.3,569.9 487,576.8 648.5,400.9 502.1,560.2 581.4,469.4 559.4,494.9 557.7,499.3 559.9,498.6 611.7,441.2 596.6,454.4 525.5,537.5 646.3,402.8 642.7,405.7 595.8,453.4 483.9,580.7 597.5,453.3 566.1,489.1 464.1,604 555.5,500.2 471.7,595.8 586.9,464.3 538.8,521.6 505,558.7 456.1,611.8 533.7,527.1 473.1,595.6 525.2,538.4 477.7,590.8 488.6,577.9 600.1,449.3 446.8,617.6 645,402.5 561.2,495.3" marker-start="url(#mx)" marker-mid="url(#mx)" marker-end="url(#mx)"/>
<polyline points="658.8,391.6 647.5,396.8 626,431.6 615.7,427.5 610.6,435.7 600.3,454.2 592.1,453.1 583.9,464.4 576.8,481.8 560.4,490 443.4,619.9 455.7,611.7 463.9,603.5 474.2,590.2 483.4,578.9 494.7,575.8 501.9,567.6 515.2,553.3 525.4,532.8 537.7,526.6 547,517.4 550,508.2 456.8,610 593.8,453.5 482.9,580.6 570.4,488.8 520.2,540.1 522.3,536.2 620.7,426.5 616.8,434.4 601.5,452.7 644.2,404.1 598.4,456.1 518.6,548.9 634.4,413.2 553.8,496.4 598.4,455.9 454.5,611.3 567.8,489.1 528.2,535 645.9,401 578.6,480.5 558,492.6 597.3,457.8 552.2,509.7 523.7,542" marker-start="url(#md)" marker-mid="url(#md)" marker-end="url(#md)"/>
<polyline points="669,381 653.6,394.7 646.5,400.9 639.3,408 633.5,414.2 626,424.4 621.9,425.5 618.8,431.6 607.5,437.8 609.6,441.9 599.9,442.5 604.4,444.9 597.9,448.6 593.2,459.3 591.1,462.4 583.9,468.5 578.8,473.6 570.6,478.8 566.5,483.9 568.6,488 557.3,493.1 561.4,496.2 554.2,500.3 438.7,627.5 448,618.3 450.6,614.8 462.3,606.6 466,598.4 469.7,596.7 475.2,592.2 478.7,588.1 481.4,583.6 484.4,574.2 488.1,573.4 491.6,575.8 496.7,567.6 500.8,565.6 499.8,560.1 503.9,558.4 508,555.3 512.1,549.2 517.2,549.2 519.3,545.1 520.3,540 526.5,536.9 529.5,534.8 530.6,526.6 534.7,527.7 542.9,514.8 550,509.2 556.2,508.2 554.1,502 518.2,548.7 564.8,492.8 508.9,553.9 533.8,521.5 556.4,497.5 488.3,574.8 621.8,426.5 502.9,562.1 540,519.1 551.1,503.3 610.4,440.3 563.2,486.1 621.6,425.3 553.9,499.4 556.6,497.5 559.4,498.2 543.4,514.4 528.8,534.3 610.5,441 556.2,498 466.7,598.3 529,529.3 463.9,600.3 561.1,496.5 473.4,595.6 608.5,442.4 505.3,557.2 551.9,505.2 553.6,502.4 621.4,427 555.4,495.5 498.3,562.5 528.5,534.2 638.9,407.5 557.8,498.5 555.3,511.6 528.7,535.8 466.5,596.8 465.3,602.1 518.9,545.3 529.7,534.5 498.2,566.3 520.3,544.2 592.6,462 624.5,421.6 515.3,552 474.4,591.4 482.3,582.7 596.9,446.5 519,543.5 577.6,474.2 618.9,429.7 564.4,492.3 639.5,406.6 555.7,494.3 599.5,442.5 473.1,594.7 592.2,460.1 600.2,442.9 507,556.2 506.4,557.4 571,478.3 603.9,446.4 567.4,484.3 643.9,404 517.4,550.6 578.5,473.1 480.4,586 609.8,441 474.3,595 634.6,411.6 596.4,446.4 472.2,594.5 523.1,540.9 485.7,571.4" marker-start="url(#mc)" marker-mid="url(#mc)" marker-end="url(#mc)"/>
</g>
<path clip-path="url(#c4)" d="M669.8,368.5L437,640" stroke="#000" stroke-width="2.2" stroke-dasharray="8.2 3.0" stroke-dashoffset="9.9" fill="none"/>
<path d="M433,640v5.6M528.9,640v5.6M624.7,640v5.6M427,421h-5.6M427,476.9h-5.6M427,532.8h-5.6M427,588.7h-5.6" stroke="#000" stroke-width="1.17" fill="none"/>
<rect x="430.3" y="371.8" width="99.5" height="60.3" rx="2.9" fill="rgba(255,255,255,0.8)" stroke="rgba(204,204,204,0.8)" stroke-width="1.46"/>
<path fill="#1e90ff" d="M446.15,377.5 447.9,379.25 449.65,377.5 451.6,379.45 449.85,381.2 451.6,382.95 449.65,384.9 447.9,383.15 446.15,384.9 444.2,382.95 445.95,381.2 444.2,379.45Z"/>
<path fill="#fdbf1c" d="M447.9,397.1 452.8,402 447.9,406.9 443,402Z"/>
<circle cx="447.9" cy="422.6" r="2.85" fill="rgba(228,20,95,0.8)" stroke="rgba(25,5,15,0.97)" stroke-width="1.6"/>
<g class="s">
<text x="463.6" y="385.1">Train</text>
<text x="463.6" y="405.8">Validation</text>
<text x="463.6" y="426.5">Test</text>
</g>
<rect x="427" y="368.5" width="256.5" height="271.5" fill="none" stroke="#000" stroke-width="1.1"/>
<g class="d" text-anchor="middle">
<text x="433" y="662.3">800</text>
<text x="528.9" y="662.3">900</text>
<text x="624.7" y="662.3">1000</text>
</g><g class="d" text-anchor="end">
<text x="415.9" y="426.3">1000</text>
<text x="415.9" y="482.2">950</text>
<text x="415.9" y="538.1">900</text>
<text x="415.9" y="594">850</text>
</g>
<g class="s" text-anchor="middle">
<text x="555.2" y="358.7">Process Time</text>
<text x="555.2" y="682.7">Actual in ms</text>
<text transform="translate(368.4,504.2) rotate(-90)">Predicted in ms</text>
</g>
</svg>
</body></html>
